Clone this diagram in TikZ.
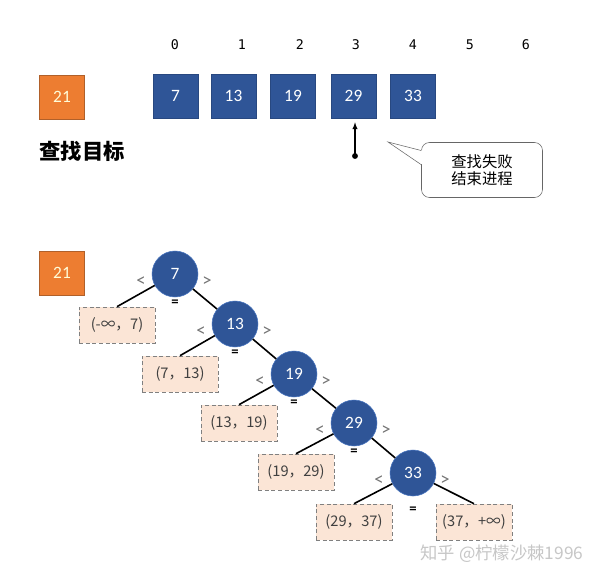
\documentclass[tikz,border=0pt]{standalone}
\usepackage{fontspec}
\setmainfont{Carlito}
\newfontfamily\cjk{Noto Sans CJK SC}
\newfontfamily\mono{DejaVu Sans Mono}
\usepackage{tikz}
\usetikzlibrary{arrows,positioning}
\definecolor{navy}{HTML}{2F5597}
\definecolor{navyedge}{HTML}{4A76C0}
\definecolor{target}{HTML}{ED7D31}
\definecolor{targetedge}{HTML}{B0602A}
\definecolor{range}{HTML}{FBE5D6}
\tikzstyle{cell} = [draw=navy!85!black, fill=navy, text=white, minimum width=33.75pt, minimum height=33pt, inner sep=0pt, font=\fontsize{13}{13}\selectfont]
\tikzstyle{goal} = [cell, draw=targetedge, fill=target, text=white!85!yellow]
\tikzstyle{idx} = [font=\mono\fontsize{10}{10}\selectfont]
\tikzstyle{knot} = [circle, draw=navyedge, fill=navy, text=white, minimum size=34.5pt, inner sep=0pt, font=\fontsize{13}{13}\selectfont]
\tikzstyle{interval} = [draw=black!50, densely dashed, line width=0.5pt, fill=range, text=black!75, minimum width=57pt, minimum height=27pt, inner sep=0pt, font=\cjk\fontsize{11}{11}\selectfont]
\tikzstyle{cmp} = [text=black!55, font=\fontsize{14}{14}\selectfont]
\tikzstyle{eq} = [font=\bfseries\fontsize{11}{11}\selectfont]
\tikzstyle{note} = [draw=black!60, rounded corners=6pt, minimum width=90.75pt, minimum height=41.25pt, align=center, font=\cjk\fontsize{11.5}{12.75}\selectfont]
\tikzstyle{link} = [line width=1.2pt]

\begin{document}
\begin{tikzpicture}[x=0.75pt, y=-0.75pt]
  \useasboundingbox (0,0) rectangle (600,579);
  \fill[white] (0,0) rectangle (600,579);
  % array
  \foreach \n/\x in {0/175,1/242,2/300,3/356,4/413,5/470,6/526}
    \node[idx] (i\n) at (\x,45) {\n};
  \node[goal] (t1) at (62,97) {21};
  \foreach \v/\x [count=\i from 0] in {7/175.5,13/233.5,19/293,29/353.5,33/413}
    \node[cell] (a\i) at (\x,96) {\v};
  \node[font=\cjk\bfseries\fontsize{16}{16}\selectfont] (lbl) at (82,151) {查找目标};
  \coordinate (start) at (355,156);
  \fill (start) circle (2.2pt);
  \draw[-latex, link, line width=0.8pt, shorten >=3pt] (start) -- (start |- a3.south);
  \node[note] (msg) at (482,170) {查找失败\\结束进程};
  \coordinate (tip) at (388,142);
  \coordinate (p1) at ([yshift=14.6pt]msg.west);
  \coordinate (p2) at ([yshift=4pt]msg.west);
  \fill[white] ([xshift=1pt]p1) -- (tip) -- ([xshift=1pt]p2) -- cycle;
  \draw[black!60] (p1) -- (tip) -- (p2);
  % tree
  \node[goal, minimum height=33pt] (t2) at (62,273) {21};
  \foreach \v/\x/\y [count=\i] in {7/175/274,13/235/324,19/294/374,29/354/423,33/413/473}{
    \node[knot] (k\i) at (\x,\y) {\v};
    \node[cmp] (lt\i) at (\x-34,\y+8) {<};
    \node[cmp] (gt\i) at (\x+32,\y+8) {>};
  }
  \foreach \i in {1,...,4}
    \node[eq] (eq\i) at ([yshift=-22pt]k\i.center) {=};
  \node[eq] (eq5) at ([yshift=-28pt]k5.center) {=};
  \node[interval] (l1) at (117,325) {(-∞，7)};
  \node[interval] (l2) at (180,374) {(7，13)};
  \node[interval] (l3) at (239,423) {(13，19)};
  \node[interval] (l4) at (296,472) {(19，29)};
  \node[interval] (l5) at (354,522) {(29，37)};
  \node[interval] (l6) at (474,522) {(37，+∞)};
  \foreach \i in {1,...,5}
    \draw[link] (k\i) -- (l\i.north);
  \foreach \i/\j in {1/2,2/3,3/4,4/5}
    \draw[link] (k\i) -- (k\j);
  \draw[link] (k5) -- (l6.north);
  \node[text=black!22, font=\cjk\fontsize{13}{13}\selectfont] (mark) at (502,554) {知乎 @柠檬沙棘1996};
\end{tikzpicture}
\end{document}
